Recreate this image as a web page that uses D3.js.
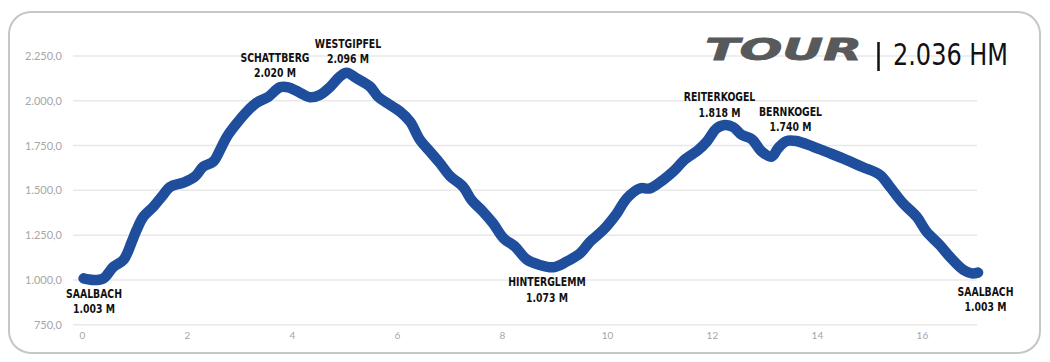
<!DOCTYPE html>
<html><head><meta charset="utf-8">
<script src="https://cdn.jsdelivr.net/npm/d3@7"></script>
<style>
html,body{margin:0;padding:0;background:#fff;}
svg{display:block;}
</style></head>
<body>
<svg id="chart" width="1050" height="362"></svg>
<script>
// ---- data ----
const distanceKm = [0.03,0.22,0.41,0.6,0.79,0.95,1.04,1.17,1.36,1.52,1.68,1.93,2.15,2.31,2.5,2.63,2.76,2.95,3.14,3.33,3.55,3.77,3.93,4.15,4.34,4.53,4.72,4.91,5.04,5.23,5.49,5.64,5.8,6.06,6.25,6.44,6.63,6.82,7.01,7.26,7.42,7.64,7.83,8.03,8.25,8.47,8.72,8.98,9.23,9.49,9.68,9.93,10.19,10.38,10.63,10.82,11.07,11.26,11.49,11.74,11.9,12.09,12.25,12.41,12.57,12.76,12.95,13.14,13.26,13.42,13.61,13.93,14.25,14.57,14.88,15.2,15.39,15.64,15.9,16.09,16.34,16.53,16.79,16.95,17.07];
const elevationM = [1009,1000,1009,1074,1112,1214,1279,1353,1409,1465,1520,1543,1576,1632,1660,1725,1799,1874,1939,1989,2022,2075,2075,2045,2019,2032,2075,2134,2156,2125,2078,2022,1989,1939,1883,1781,1716,1651,1580,1520,1446,1381,1316,1233,1186,1115,1084,1071,1102,1149,1214,1279,1372,1456,1511,1511,1558,1604,1673,1725,1771,1846,1864,1852,1809,1785,1716,1688,1735,1775,1775,1743,1707,1669,1629,1586,1520,1428,1353,1269,1195,1130,1056,1037,1041];
const yTicks = [750,1000,1250,1500,1750,2000,2250];
const yTickLabels = ["750,0","1.000,0","1.250,0","1.500,0","1.750,0","2.000,0","2.250,0"];
const xTicks = [0,2,4,6,8,10,12,14,16];
const peakNames = ["SAALBACH","SCHATTBERG","WESTGIPFEL","HINTERGLEMM","REITERKOGEL","BERNKOGEL","SAALBACH"];
const peakHeights = ["1.003 M","2.020 M","2.096 M","1.073 M","1.818 M","1.740 M","1.003 M"];
const titleWord = "TOUR";
const titleValue = "2.036 HM";

// ---- layout ----
const svg = d3.select("#chart");
const x = d3.scaleLinear().domain([0, 17.05]).range([82, 977]);
const y = d3.scaleLinear().domain([750, 2250]).range([324.8, 55.9]);

// card
svg.append("rect").attr("x",9).attr("y",12).attr("width",1031).attr("height",341)
  .attr("rx",22).attr("ry",22).attr("fill","#fff").attr("stroke","#c6c6c6").attr("stroke-width",2);

// gridlines
const gridX0 = 73, gridX1 = x.range()[1];
svg.append("g").selectAll("line").data(yTicks).join("line")
  .attr("x1",gridX0).attr("x2",gridX1)
  .attr("y1",d=>y(d)).attr("y2",d=>y(d))
  .attr("stroke","#e8e8e8").attr("stroke-width",1.5);

// y axis labels
const yAxis = d3.axisLeft(y).tickValues(yTicks).tickSize(0).tickPadding(0)
  .tickFormat((d,i)=>yTickLabels[i]);
const gy = svg.append("g").attr("transform","translate(62,0)").call(yAxis);
gy.select(".domain").remove();
gy.selectAll("text").attr("fill","#a6a6a6").attr("font-family","Lato, 'Open Sans', sans-serif")
  .attr("font-size",11).attr("x",0);

// x axis labels
const xAxis = d3.axisBottom(x).tickValues(xTicks).tickSize(0).tickPadding(0).tickFormat(d3.format("d"));
const gx = svg.append("g").attr("transform","translate(0,333)").call(xAxis);
gx.select(".domain").remove();
gx.selectAll("text").attr("fill","#a6a6a6").attr("font-family","Lato, 'Open Sans', sans-serif")
  .attr("font-size",10).attr("dy","0.6em");

// profile line
const pts = distanceKm.map((d,i)=>[d, elevationM[i]]);
const line = d3.line().x(d=>x(d[0])).y(d=>y(d[1])).curve(d3.curveCatmullRom.alpha(0.5));
svg.append("path").datum(pts).attr("d",line)
  .attr("fill","none").attr("stroke","#1f4e9d").attr("stroke-width",10.5)
  .attr("stroke-linecap","round").attr("stroke-linejoin","round");

// peak labels (centre x, baseline of name, baseline of height)
const labelPos = [[94,297.5,313],[275,61.5,76.5],[348,48,63],[547,286,302],[719.5,101,116.5],[790.5,115.5,131],[985.5,295.5,311]];
const labelFont = "'DejaVu Sans Condensed', 'DejaVu Sans', sans-serif";
const labelSize = 12.5;
// measure a reference word to get a horizontal condensing factor
const probe = svg.append("text").attr("font-family",labelFont).attr("font-weight","bold")
  .attr("font-size",labelSize).text("SCHATTBERG");
const sx = 69 / probe.node().getComputedTextLength();
probe.remove();
peakNames.forEach((n,i)=>{
  const [cx,y1,y2] = labelPos[i];
  const g = svg.append("g").attr("font-family",labelFont).attr("font-weight","bold")
    .attr("font-size",labelSize).attr("fill","#111").attr("text-anchor","middle");
  g.append("text").attr("transform",`translate(${cx},${y1}) scale(${sx},1)`).text(n);
  g.append("text").attr("transform",`translate(${cx},${y2}) scale(${sx},1)`).text(peakHeights[i]);
});

// title
svg.append("text").attr("x",705).attr("y",60).text(titleWord)
  .attr("font-family","'DejaVu Sans', sans-serif").attr("font-weight","bold").attr("font-style","italic")
  .attr("font-size",31).attr("fill","#58595b").attr("stroke","#58595b").attr("stroke-width",0.8)
  .attr("textLength",157).attr("lengthAdjust","spacingAndGlyphs");
svg.append("line").attr("x1",878.5).attr("x2",878.5).attr("y1",42).attr("y2",71)
  .attr("stroke","#111").attr("stroke-width",2.5);
svg.append("text").attr("x",893).attr("y",65).text(titleValue)
  .attr("font-family","'DejaVu Sans Condensed', 'DejaVu Sans', sans-serif")
  .attr("font-size",30).attr("fill","#111")
  .attr("textLength",115).attr("lengthAdjust","spacingAndGlyphs");
</script>
</body></html>
